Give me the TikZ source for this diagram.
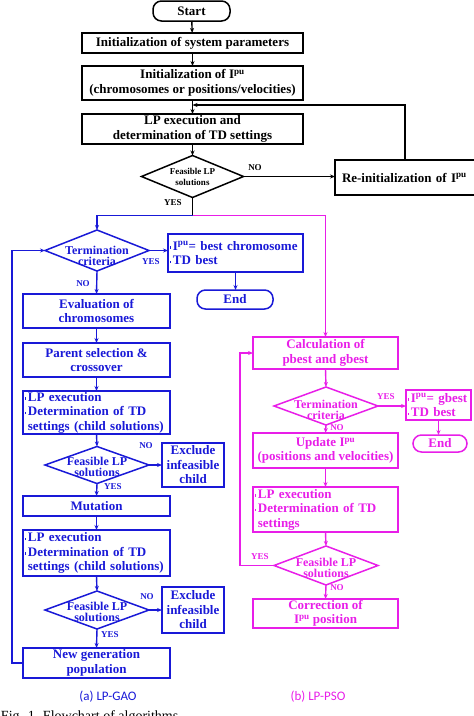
\documentclass[tikz,border=0pt]{standalone}
\usepackage{fontspec}
\setmainfont{Liberation Serif}
\newfontfamily\capfont{Carlito}
\usetikzlibrary{arrows.meta,shapes.geometric}
\definecolor{myblue}{RGB}{25,25,215}
\definecolor{mypink}{RGB}{232,30,232}
\newcommand\bul{\raisebox{0.25ex}{\rule{1.4pt}{2.4pt}}\hspace{1.5pt}}
\newcommand\Ipu{I\textsuperscript{pu}}
\begin{document}
\begin{tikzpicture}[x=1pt,y=-1pt,
 every node/.style={inner sep=0pt, outer sep=0pt},
 bx/.style={draw, line width=1.5pt, align=center, font=\bfseries\fontsize{13}{14.5}\selectfont},
 lbx/.style={bx, align=left, inner xsep=2pt},
 termbox/.style={bx, rounded corners=8.5pt},
 dia/.style={draw, diamond, line width=1.5pt},
 dtext/.style={font=\bfseries\fontsize{12}{11}\selectfont, align=center},
 lab/.style={font=\bfseries\fontsize{9}{9}\selectfont},
 arr/.style={line width=1.4pt, -{Stealth[length=5pt,width=4pt]}},
 ln/.style={line width=1.4pt},
]
\useasboundingbox (0,0) rectangle (474,716);

% ---- common part (black)
\node[termbox, minimum width=77pt, minimum height=20pt] (start) at (191.5,11) {Start};
\node[bx, minimum width=221pt, minimum height=20pt] (init) at (192.5,43) {Initialization of system parameters};
\node[bx, minimum width=221pt, minimum height=34pt] (initI) at (192.5,83) {Initialization of \Ipu\\(chromosomes or positions/velocities)};
\node[bx, minimum width=221pt, minimum height=30pt] (lp0) at (192.5,129) {LP execution and\\determination of TD settings};
\node[dia, minimum width=102pt, minimum height=42pt] (d0) at (192.5,176.5) {};
\node[font=\bfseries\fontsize{9}{11}\selectfont, align=center] (d0t) at (192.5,177) {Feasible LP\\solutions};
\node[bx, draw=none, anchor=west, align=left, text width=166pt, inner xsep=7pt, minimum height=35pt] (re) at (335,177.5) {Re-initialization of \Ipu};
\draw[line width=1.5pt] (re.north east) -- (re.north west) -- (re.south west) -- (re.south east);

\draw[arr] (start) -- (init);
\draw[arr] (init) -- (initI);
\draw[arr] (initI) -- (lp0);
\draw[arr] (lp0) -- (d0);
\draw[arr] (d0.east) -- (d0.east -| re.west);
\coordinate (fb) at (192.5,105);
\coordinate (reup) at (405,160);
\draw[arr] (reup) |- (fb);
\coordinate (j) at (192.5,215.5);
\draw[ln] (d0.south) -- (j);
\node[lab] (no0) at (255,168) {NO};
\node[lab] (yes0) at (173,203) {YES};

% ---- (a) LP-GAO (blue)
\begin{scope}[every node/.append style={myblue}, myblue]
\node[dia, minimum width=104pt, minimum height=41pt] (t1) at (97,250.5) {};
\node[dtext] (t1t) at (97,256) {Termination\\criteria};
\node[lbx, text width=131pt, minimum height=38pt] (b1) at (235.5,253) {\bul\Ipu= best chromosome\\\bul TD best};
\node[termbox, minimum width=76pt, minimum height=19pt] (e1) at (235,299.5) {End};
\node[bx, minimum width=147pt, minimum height=34pt] (ev) at (96.5,311) {Evaluation of\\chromosomes};
\node[bx, minimum width=147pt, minimum height=34pt] (ps) at (96.5,360) {Parent selection \&\\crossover};
\node[lbx, text width=143pt, minimum height=43pt] (l1) at (96.5,412.5) {\bul LP execution\\\bul Determination of TD\\\hphantom{\bul}settings (child solutions)};
\node[dia, minimum width=104pt, minimum height=37pt] (f1) at (97,465) {};
\node[dtext] (f1t) at (97,467) {Feasible LP\\solutions};
\node[bx, minimum width=62pt, minimum height=44pt] (x1) at (193,465) {Exclude\\infeasible\\child};
\node[bx, minimum width=147pt, minimum height=20pt] (mu) at (96.5,506) {Mutation};
\node[lbx, text width=143pt, minimum height=46pt] (l2) at (96.5,553) {\bul LP execution\\\bul Determination of TD\\\hphantom{\bul}settings (child solutions)};
\node[dia, minimum width=104pt, minimum height=38pt] (f2) at (97,610) {};
\node[dtext] (f2t) at (97,612) {Feasible LP\\solutions};
\node[bx, minimum width=62pt, minimum height=46pt] (x2) at (193,610) {Exclude\\infeasible\\child};
\node[bx, minimum width=147pt, minimum height=30pt] (ng) at (96.5,663) {New generation\\population};

\draw[arr] (j) -| (t1.north);
\draw[arr] (t1.east) -- (t1.east -| b1.west);
\draw[arr] (b1.south) -- (b1.south |- e1.north);
\draw[arr] (t1.south) -- (ev.north);
\draw[arr] (ev) -- (ps);
\draw[arr] (ps) -- (l1);
\draw[arr] (l1.south) -- (f1.north);
\draw[arr] (f1.east) -- (x1.west);
\draw[arr] (f1.south) -- (mu.north);
\draw[arr] (mu) -- (l2);
\draw[arr] (l2.south) -- (f2.north);
\draw[arr] (f2.east) -- (x2.west);
\draw[arr] (f2.south) -- (ng.north);
\draw[arr] (ng.west) -- ++(-11,0) |- (t1.west);

\node[lab] (yes1) at (151,262) {YES};
\node[lab] (no1) at (83,284) {NO};
\node[lab] (no2) at (146,446) {NO};
\node[lab] (yes2) at (113,487) {YES};
\node[lab] (no3) at (147,597) {NO};
\node[lab] (yes3) at (110,635) {YES};
\node[font=\capfont\fontsize{13}{13}\selectfont] (capa) at (108,697) {(a) LP-GAO};
\end{scope}

% ---- (b) LP-PSO (pink)
\begin{scope}[every node/.append style={mypink}, mypink]
\node[bx, minimum width=145pt, minimum height=32pt] (calc) at (325.5,353) {Calculation of\\pbest and gbest};
\node[dia, minimum width=104pt, minimum height=38pt] (t2) at (326,406) {};
\node[dtext] (t2t) at (326,410) {Termination\\criteria};
\node[lbx, text width=61pt, minimum height=30pt] (g2) at (438.5,405) {\bul\Ipu= gbest\\\bul TD best};
\node[termbox, minimum width=54pt, minimum height=17pt] (e2) at (440,443.5) {End};
\node[bx, minimum width=145pt, minimum height=35pt] (up) at (325.5,450.5) {Update \Ipu\\(positions and velocities)};
\node[lbx, text width=141pt, minimum height=45pt] (l3) at (325.5,509.5) {\bul LP execution\\\bul Determination of TD\\\hphantom{\bul}settings};
\node[dia, minimum width=104pt, minimum height=39pt] (f3) at (326,565.5) {};
\node[dtext] (f3t) at (326,568) {Feasible LP\\solutions};
\node[bx, minimum width=145pt, minimum height=29pt] (co) at (325.5,613.5) {Correction of\\\Ipu{} position};

\draw[arr] (j) -| (calc.north);
\draw[arr] (calc.south) -- (t2.north);
\draw[arr] (t2.east) -- (t2.east -| g2.west);
\draw[arr] (g2.south) -- (g2.south |- e2.north);
\draw[arr] (t2.south) -- (up.north);
\draw[arr] (up) -- (l3);
\draw[arr] (l3.south) -- (f3.north);
\draw[arr] (f3.south) -- (co.north);
\draw[arr] (f3.west) -- ++(-34,0) |- (calc.west);

\node[lab] (yes4) at (386,397) {YES};
\node[lab] (no4) at (337,428) {NO};
\node[lab] (yes5) at (260,557) {YES};
\node[lab] (no5) at (337,588) {NO};
\node[font=\capfont\fontsize{13}{13}\selectfont] (capb) at (318,697) {(b) LP-PSO};
\end{scope}

\node[anchor=base west, font=\fontsize{14}{14}\selectfont] (fig) at (1,720) {Fig. 1. Flowchart of algorithms};
\end{tikzpicture}
\end{document}
